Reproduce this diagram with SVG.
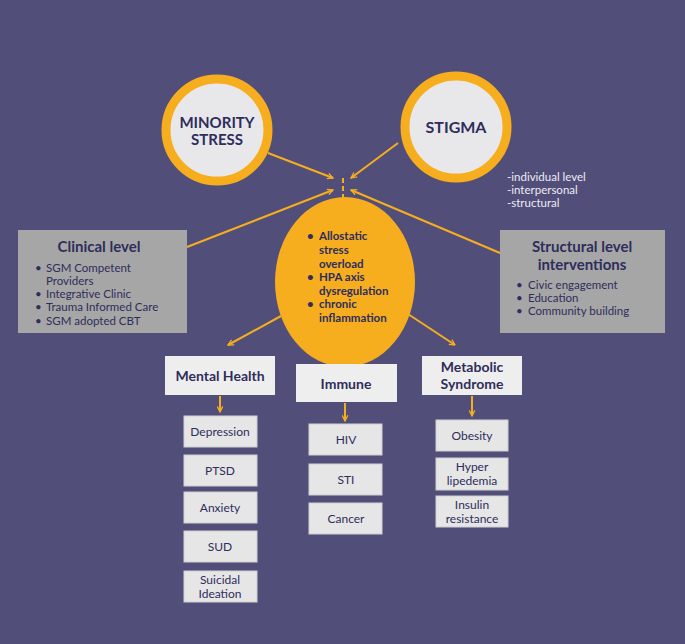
<svg xmlns="http://www.w3.org/2000/svg" width="685" height="644" viewBox="0 0 685 644">
<defs>
<marker id="ah" viewBox="0 0 10 10" refX="9" refY="5" markerWidth="7" markerHeight="7" orient="auto-start-reverse" markerUnits="userSpaceOnUse"><path d="M1,1 L9,5 L1,9" fill="none" stroke="#f6ae1f" stroke-width="1.8"/></marker>
</defs>
<style>
text{font-family:Lato,"Open Sans",sans-serif;fill:#2e2d5c}
.b{font-weight:bold}
.c{fill:#e8e8ea;stroke:#f6ae1f;stroke-width:9}
.g{fill:#a6a6a6}
.l{fill:#e6e6e6;stroke:#cfcfcf;stroke-width:1}
.h{fill:#eeeeee}
.ln{stroke:#f6ae1f;stroke-width:2;fill:none;marker-end:url(#ah)}
.s{font-size:12px;text-anchor:middle}
.w{fill:#ececf2;font-size:11.5px}
</style>
<rect width="685" height="644" fill="#524e7a"/>
<g id="connectors">
<line class="ln" x1="268" y1="153" x2="333" y2="178"/>
<line class="ln" x1="398" y1="143" x2="351" y2="178"/>
<line class="ln" x1="187" y1="247" x2="333" y2="190"/>
<line class="ln" x1="500" y1="253" x2="351" y2="190"/>
<line x1="343" y1="178" x2="343" y2="198" stroke="#f6ae1f" stroke-width="2" stroke-dasharray="5,3"/>
<line class="ln" x1="281" y1="316" x2="228" y2="345"/>
<line class="ln" x1="345" y1="352" x2="345" y2="361"/>
<line class="ln" x1="408" y1="314" x2="455" y2="345"/>
<line class="ln" x1="220" y1="396" x2="220" y2="412"/>
<line class="ln" x1="345" y1="403" x2="345" y2="421"/>
<line class="ln" x1="472" y1="396" x2="472" y2="416"/>
</g>
<g id="minority"><circle class="c" cx="217" cy="130" r="51"/>
<text class="b" x="217" y="128" font-size="15" text-anchor="middle">MINORITY</text>
<text class="b" x="217" y="145" font-size="15" text-anchor="middle">STRESS</text></g>
<g id="stigma"><circle class="c" cx="456" cy="127" r="51"/>
<text class="b" x="456" y="133" font-size="16" text-anchor="middle">STIGMA</text></g>
<g id="stigma-levels"><text class="w" x="507" y="181">-individual level</text>
<text class="w" x="507" y="194">-interpersonal</text>
<text class="w" x="507" y="207">-structural</text></g>
<g id="clinical"><rect class="g" x="18" y="230" width="169" height="103"/>
<text class="b" x="99" y="252" font-size="15" text-anchor="middle">Clinical level</text>
<g font-size="11.5"><text x="35" y="272">•</text><text x="46" y="272">SGM Competent</text><text x="46" y="285">Providers</text>
<text x="35" y="298">•</text><text x="46" y="298">Integrative Clinic</text>
<text x="35" y="311">•</text><text x="46" y="311">Trauma Informed Care</text>
<text x="35" y="325">•</text><text x="46" y="325">SGM adopted CBT</text></g></g>
<g id="structural"><rect class="g" x="500" y="230" width="165" height="103"/>
<text class="b" x="582" y="252" font-size="15" text-anchor="middle">Structural level</text>
<text class="b" x="582" y="270" font-size="15" text-anchor="middle">interventions</text>
<g font-size="11.5"><text x="516" y="289">•</text><text x="528" y="289">Civic engagement</text>
<text x="516" y="302">•</text><text x="528" y="302">Education</text>
<text x="516" y="315">•</text><text x="528" y="315">Community building</text></g></g>
<g id="center"><ellipse cx="345" cy="282" rx="70" ry="85" fill="#f6ae1f"/>
<g class="b" font-size="11.5"><text x="307" y="240">•</text><text x="319" y="240">Allostatic</text><text x="319" y="254">stress</text><text x="319" y="268">overload</text>
<text x="307" y="281">•</text><text x="319" y="281">HPA axis</text><text x="319" y="295">dysregulation</text>
<text x="307" y="308">•</text><text x="319" y="308">chronic</text><text x="319" y="322">inflammation</text></g></g>
<g id="mental"><rect class="h" x="165" y="356" width="110" height="39"/><text class="b" x="220" y="381" font-size="14" text-anchor="middle">Mental Health</text></g>
<g id="immune"><rect class="h" x="296" y="364" width="101" height="38"/><text class="b" x="346" y="389" font-size="14" text-anchor="middle">Immune</text></g>
<g id="metabolic"><rect class="h" x="422" y="356" width="100" height="39"/><text class="b" x="472" y="372" font-size="14" text-anchor="middle">Metabolic</text><text class="b" x="472" y="389" font-size="14" text-anchor="middle">Syndrome</text></g>
<g id="depression"><rect class="l" x="184" y="416" width="73" height="31"/><text class="s" x="220" y="436">Depression</text></g>
<g id="ptsd"><rect class="l" x="184" y="455" width="73" height="31"/><text class="s" x="220" y="475">PTSD</text></g>
<g id="anxiety"><rect class="l" x="184" y="492" width="73" height="31"/><text class="s" x="220" y="512">Anxiety</text></g>
<g id="sud"><rect class="l" x="184" y="531" width="73" height="31"/><text class="s" x="220" y="551">SUD</text></g>
<g id="suicidal"><rect class="l" x="184" y="571" width="73" height="31"/><text class="s" x="220" y="584">Suicidal</text><text class="s" x="220" y="598">Ideation</text></g>
<g id="hiv"><rect class="l" x="309" y="424" width="73" height="31"/><text class="s" x="346" y="444">HIV</text></g>
<g id="sti"><rect class="l" x="309" y="464" width="73" height="31"/><text class="s" x="346" y="484">STI</text></g>
<g id="cancer"><rect class="l" x="309" y="503" width="73" height="31"/><text class="s" x="346" y="523">Cancer</text></g>
<g id="obesity"><rect class="l" x="436" y="420" width="72" height="31"/><text class="s" x="472" y="440">Obesity</text></g>
<g id="hyper"><rect class="l" x="436" y="458" width="72" height="32"/><text class="s" x="472" y="471">Hyper</text><text class="s" x="472" y="485">lipedemia</text></g>
<g id="insulin"><rect class="l" x="436" y="496" width="72" height="31"/><text class="s" x="472" y="509">Insulin</text><text class="s" x="472" y="523">resistance</text></g>
</svg>
